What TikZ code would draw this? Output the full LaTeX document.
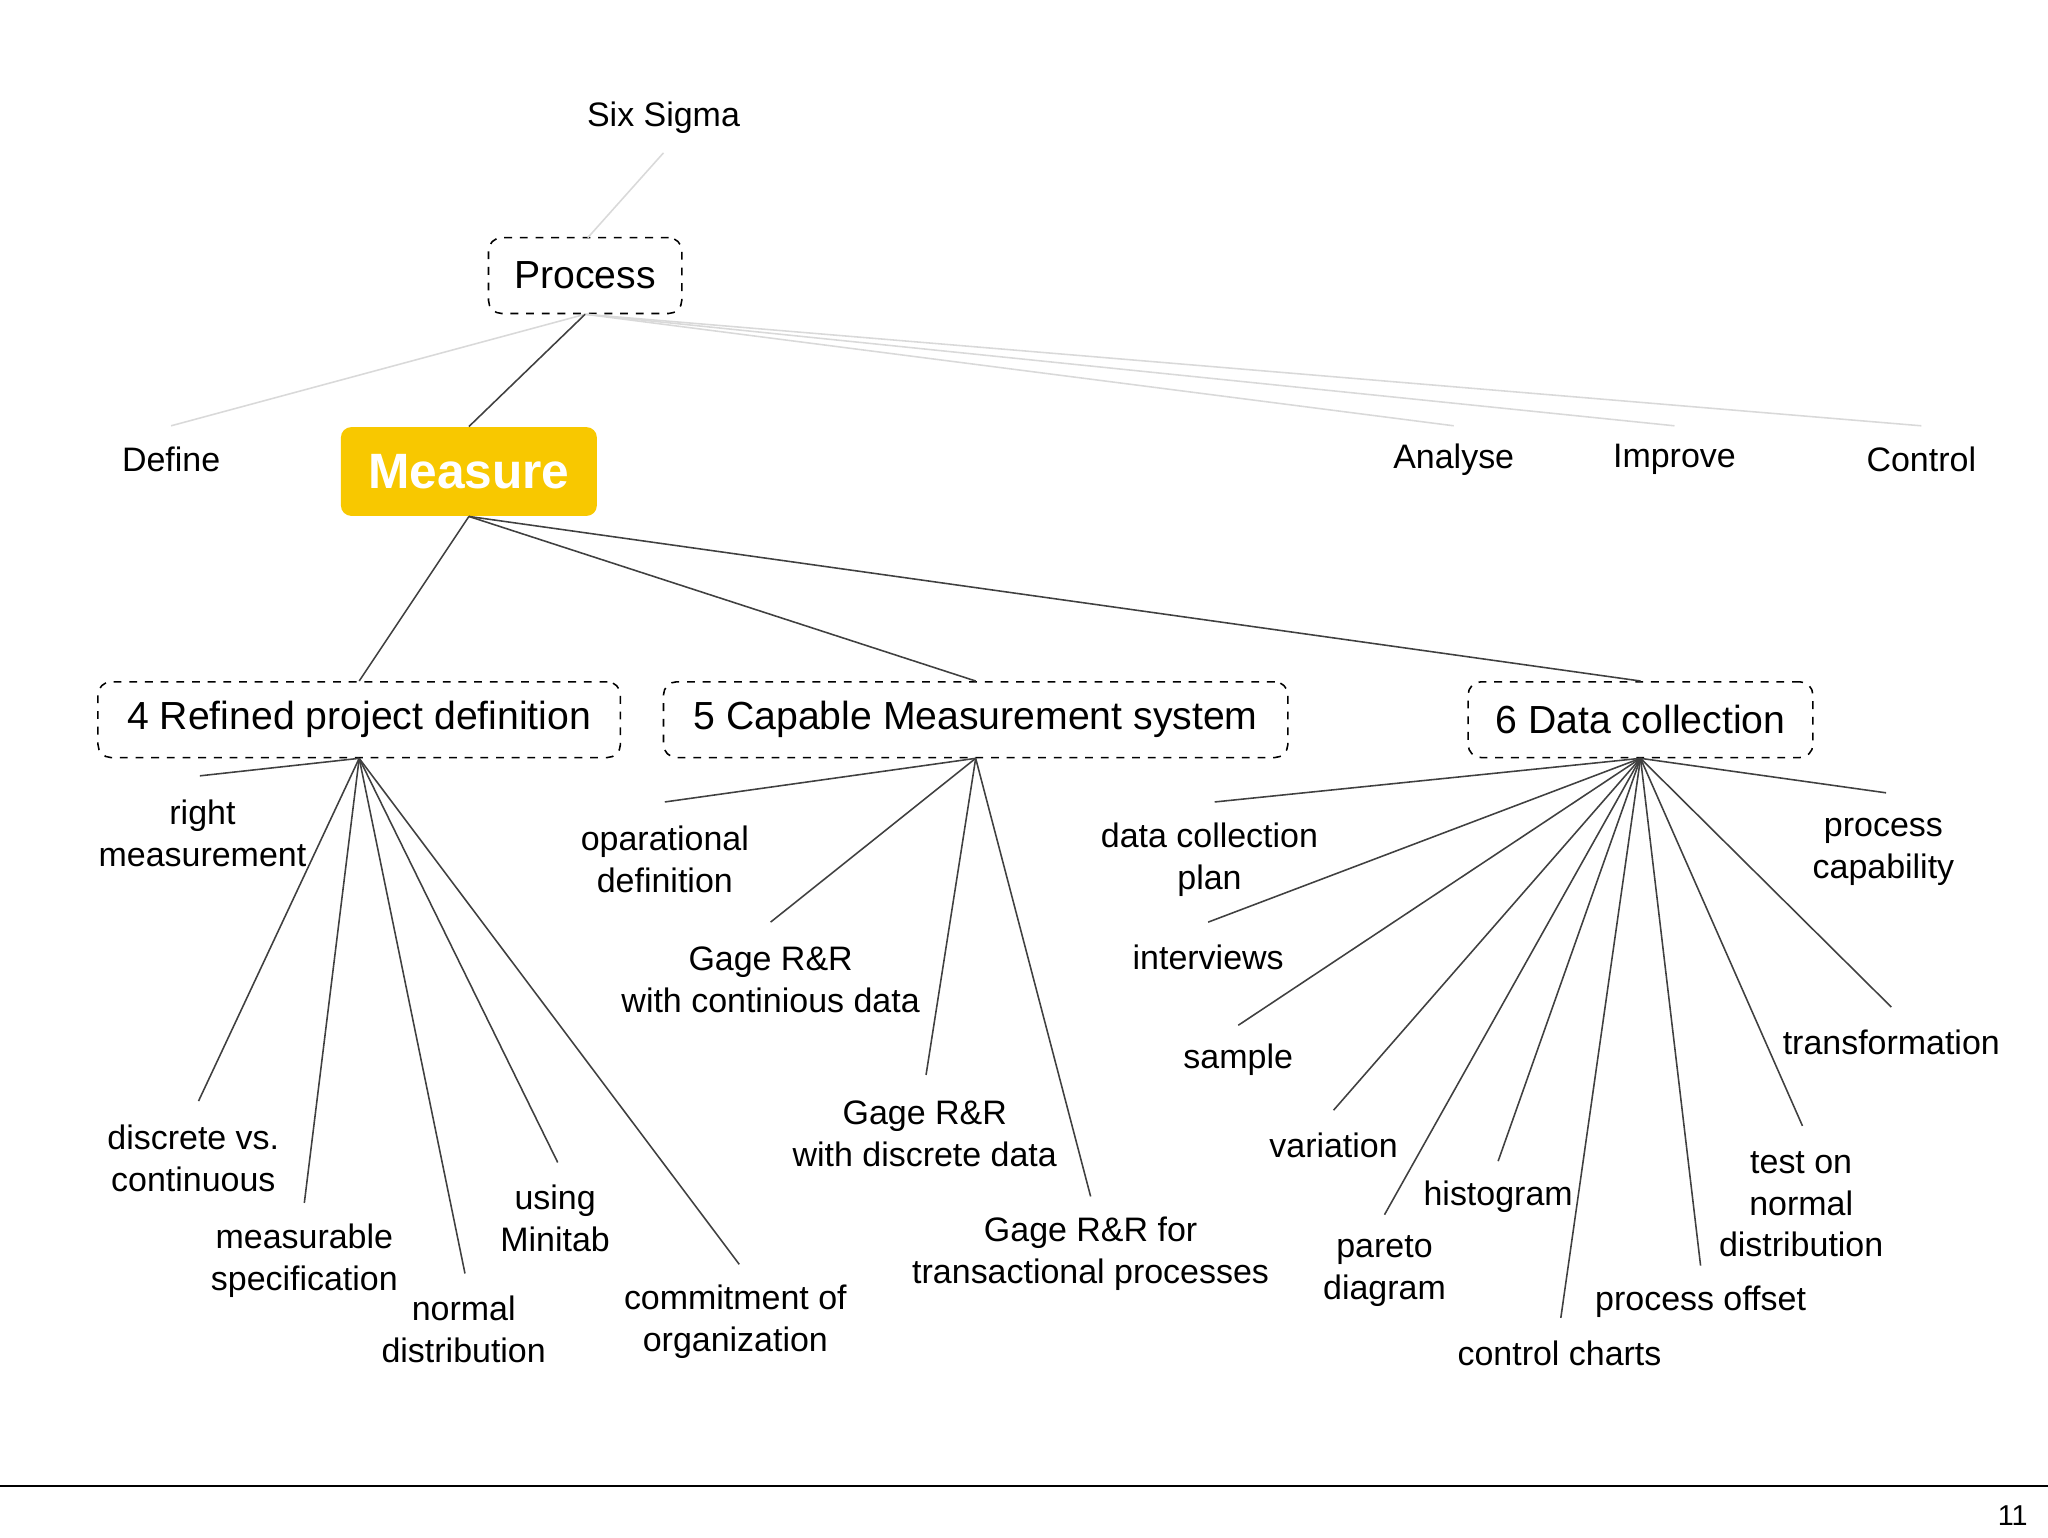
\documentclass[tikz,border=0pt]{standalone}
\usepackage{fontspec}
\setmainfont{Liberation Sans}
\begin{document}
\begin{tikzpicture}[x=0.5pt,y=-0.5pt,
 lbl/.style={font=\fontsize{13}{16}\selectfont,align=center,inner sep=0pt},
 box/.style={draw,dashed,rounded corners=5pt,line width=0.6pt,minimum height=29pt,font=\fontsize{15}{18}\selectfont,inner sep=0pt},
 lt/.style={draw=black!15,line width=0.6pt},
 dk/.style={draw=black!75,line width=0.6pt}]
\useasboundingbox (0,0) rectangle (1568,1177);
\node[lbl] (six) at (508,90) {Six Sigma};
\node[box,minimum width=74pt] (proc) at (448,211) {Process};
\node[lbl] (def) at (131,352) {Define};
\node[fill={rgb,255:red,248;green,200;blue,0},rounded corners=4pt,minimum width=98pt,minimum height=34pt,text=white,font=\fontsize{19}{22}\selectfont\bfseries,inner sep=0pt] (meas) at (359,361) {Measure};
\node[lbl] (ana) at (1113,352) {Analyse};
\node[lbl] (imp) at (1282,352) {Improve};
\node[lbl] (con) at (1471,352) {Control};
\draw[lt] (508,117) coordinate(a1) -- (450,182) coordinate(a2);
\foreach \n/\x in {def/131,ana/1113,imp/1282,con/1471}
  \draw[lt] (proc.south) -- (\x,326);
\draw[dk] (proc.south) -- (meas.north);
\node[box,minimum width=200pt] (b4) at (275,551) {4 Refined project definition};
\node[box,minimum width=239pt] (b5) at (747,551) {5 Capable Measurement system};
\node[box,minimum width=132pt] (b6) at (1256,551) {6 Data collection};
\foreach \b in {b4,b5,b6} \draw[dk] (meas.south) -- (\b.north);
% box4 leaves
\foreach \t/\tx/\ty/\ex/\ey in {
 {right\\measurement}/155/638/153/594,
 {discrete vs.\\continuous}/148/887/152/843,
 {measurable\\specification}/233/965/233/921,
 {using\\Minitab}/425/933/427/890,
 {normal\\distribution}/355/1018/356/975,
 {commitment of\\organization}/563/1012/566/968}{
 \node[lbl] at (\tx,\ty) {\t};
 \draw[dk] (b4.south) -- (\ex,\ey);}
\foreach \t/\tx/\ty/\ex/\ey in {
 {oparational\\definition}/509/658/509/614,
 {Gage R\&R\\with continious data}/590/750/590/706,
 {Gage R\&R\\with discrete data}/708/868/709/823,
 {Gage R\&R for\\transactional processes}/835/960/835/916}{
 \node[lbl] at (\tx,\ty) {\t};
 \draw[dk] (b5.south) -- (\ex,\ey);}
\foreach \t/\tx/\ty/\ex/\ey in {
 {data collection\\plan}/926/658/930/614,
 {interviews}/925/733/925/706,
 {sample}/948/811/948/785,
 {variation}/1021/877/1021/850,
 {pareto\\diagram}/1060/973/1060/930,
 {histogram}/1147/916/1147/889,
 {control charts}/1194/1036/1195/1009,
 {process offset}/1302/997/1302/969,
 {test on\\normal\\distribution}/1379/922/1380/862,
 {transformation}/1448/798/1448/771,
 {process\\capability}/1442/652/1444/607}{
 \node[lbl] at (\tx,\ty) {\t};
 \draw[dk] (b6.south) -- (\ex,\ey);}
\draw[line width=0.7pt] (0,1138) coordinate(l1) -- (1568,1138) coordinate(l2);
\node[lbl,font=\fontsize{11}{13}\selectfont] (pg) at (1541,1160) {11};
\end{tikzpicture}
\end{document}
